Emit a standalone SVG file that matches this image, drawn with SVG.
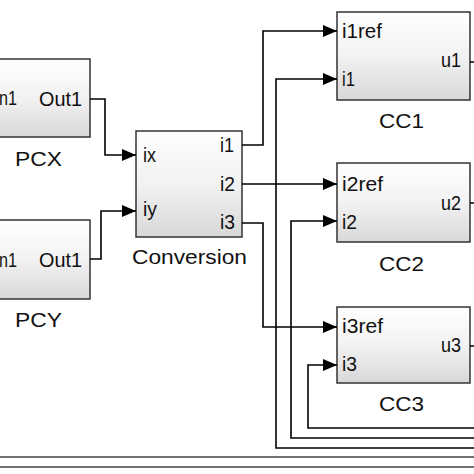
<svg xmlns="http://www.w3.org/2000/svg" width="474" height="474" viewBox="0 0 474 474">
<style>
.blk{fill:url(#g);stroke:#333;stroke-width:1.5}
.t{font-family:"Liberation Sans",Arial,sans-serif;font-size:20.5px;fill:#111}
.w{fill:none;stroke:#000;stroke-width:1.6}
.b{fill:none;stroke:#444;stroke-width:1.6}
</style>
<defs>
<linearGradient id="g" x1="0" y1="0" x2="0" y2="1">
<stop offset="0" stop-color="#ffffff"/>
<stop offset="0.5" stop-color="#f2f2f2"/>
<stop offset="1" stop-color="#d8d8d8"/>
</linearGradient>
<marker id="a" markerUnits="userSpaceOnUse" markerWidth="15" markerHeight="13" refX="14" refY="6.5" orient="auto">
<path d="M0,0.5 L14,6.5 L0,12.5 z" fill="#000"/>
</marker>
</defs>
<rect width="474" height="474" fill="#fff"/>

<g id="PCX">
<rect class="blk" x="-10" y="59" width="100" height="78"/>
<text class="t" x="-1" y="105" textLength="18" lengthAdjust="spacingAndGlyphs">n1</text>
<text class="t" x="39" y="106" textLength="43" lengthAdjust="spacingAndGlyphs">Out1</text>
<text class="t" x="15" y="166" textLength="47" lengthAdjust="spacingAndGlyphs">PCX</text>
</g>
<g id="PCY">
<rect class="blk" x="-10" y="220" width="100" height="79"/>
<text class="t" x="-1" y="267" textLength="18" lengthAdjust="spacingAndGlyphs">n1</text>
<text class="t" x="39" y="267" textLength="43" lengthAdjust="spacingAndGlyphs">Out1</text>
<text class="t" x="15" y="327" textLength="47" lengthAdjust="spacingAndGlyphs">PCY</text>
</g>
<g id="Conversion">
<rect class="blk" x="136" y="131" width="106" height="106"/>
<text class="t" x="143" y="162" textLength="13" lengthAdjust="spacingAndGlyphs">ix</text>
<text class="t" x="143" y="216" textLength="14" lengthAdjust="spacingAndGlyphs">iy</text>
<text class="t" x="220" y="152" textLength="14" lengthAdjust="spacingAndGlyphs">i1</text>
<text class="t" x="220" y="191" textLength="15" lengthAdjust="spacingAndGlyphs">i2</text>
<text class="t" x="220" y="229" textLength="15" lengthAdjust="spacingAndGlyphs">i3</text>
<text class="t" x="132" y="264" textLength="115" lengthAdjust="spacingAndGlyphs">Conversion</text>
</g>
<g id="CC1">
<rect class="blk" x="337" y="12" width="133" height="88"/>
<text class="t" x="342" y="38" textLength="40" lengthAdjust="spacingAndGlyphs">i1ref</text>
<text class="t" x="342" y="86" textLength="13" lengthAdjust="spacingAndGlyphs">i1</text>
<text class="t" x="441" y="67" textLength="20" lengthAdjust="spacingAndGlyphs">u1</text>
<text class="t" x="379" y="128" textLength="45" lengthAdjust="spacingAndGlyphs">CC1</text>
</g>
<g id="CC2">
<rect class="blk" x="337" y="163" width="133" height="79"/>
<text class="t" x="342" y="191" textLength="41" lengthAdjust="spacingAndGlyphs">i2ref</text>
<text class="t" x="342" y="229" textLength="15" lengthAdjust="spacingAndGlyphs">i2</text>
<text class="t" x="441" y="210" textLength="20" lengthAdjust="spacingAndGlyphs">u2</text>
<text class="t" x="379" y="271" textLength="45" lengthAdjust="spacingAndGlyphs">CC2</text>
</g>
<g id="CC3">
<rect class="blk" x="337" y="307" width="133" height="76"/>
<text class="t" x="342" y="333" textLength="41" lengthAdjust="spacingAndGlyphs">i3ref</text>
<text class="t" x="342" y="371" textLength="15" lengthAdjust="spacingAndGlyphs">i3</text>
<text class="t" x="441" y="352" textLength="20" lengthAdjust="spacingAndGlyphs">u3</text>
<text class="t" x="379" y="411" textLength="45" lengthAdjust="spacingAndGlyphs">CC3</text>
</g>

<g id="connectors">
<path class="w" d="M90,99 H105 V155 H136" marker-end="url(#a)"/>
<path class="w" d="M90,259 H101 V211 H136" marker-end="url(#a)"/>
<path class="w" d="M242,145 H263 V31 H337" marker-end="url(#a)"/>
<path class="w" d="M242,184 H337" marker-end="url(#a)"/>
<path class="w" d="M242,223 H263 V327 H337" marker-end="url(#a)"/>
<path class="w" d="M474,448 H276 V79 H337" marker-end="url(#a)"/>
<path class="w" d="M474,438 H291 V221 H337" marker-end="url(#a)"/>
<path class="w" d="M474,428 H308 V365 H337" marker-end="url(#a)"/>
<path class="w" d="M470,62 H474 M470,203 H474 M470,346 H474"/>
<path class="b" d="M0,457 H474 M0,467 H474"/>
</g>
</svg>
